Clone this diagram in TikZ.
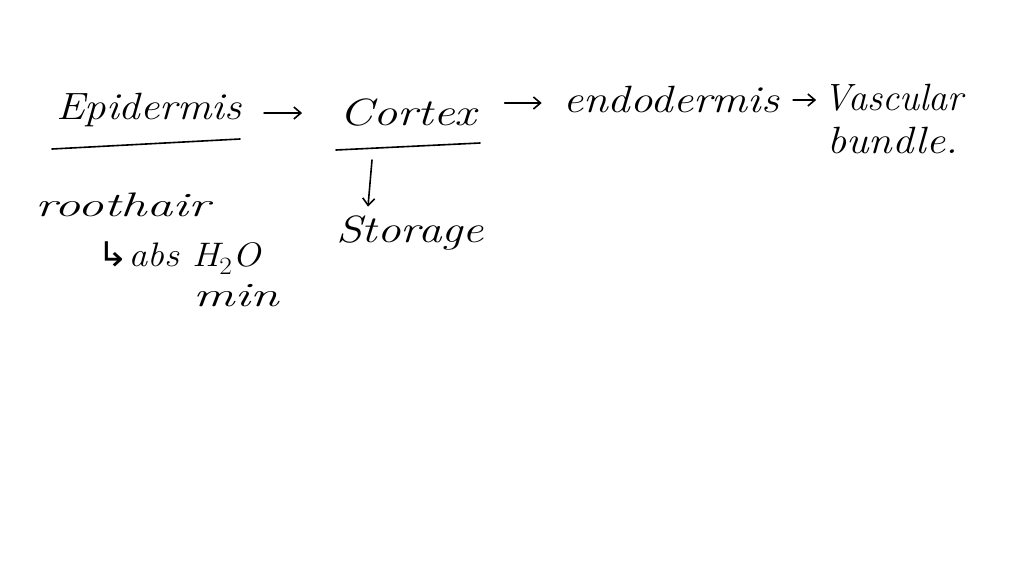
\documentclass[tikz,border=0pt]{standalone}
\usepackage{fontspec}
\newfontfamily\symfont{DejaVu Sans}
\usetikzlibrary{arrows.meta}
\newcommand\hw[2]{\scalebox{#1}[1]{#2}}
\begin{document}
\begin{tikzpicture}[x=1pt,y=-1pt,
  word/.style={inner sep=0pt,font=\fontsize{38}{44}\selectfont\itshape},
  small/.style={inner sep=0pt,font=\fontsize{34}{40}\selectfont\itshape},
  pen/.style={line width=1.6pt,line cap=round},
  flow/.style={pen,-{Straight Barb[length=7pt,width=12pt]}}]
\useasboundingbox (0,0) rectangle (1024,576);
\fill[white] (0,0) rectangle (1024,576);
\node[word] (epi) at (149,110) {\hw{1.13}{Epidermis}};
\node[word] (cor) at (408,113) {\hw{1.27}{Cortex}};
\node[word] (endo) at (671,100) {\hw{1.18}{endodermis}};
\node[word,anchor=west] (vas) at (823,98) {\hw{1.0}{Vascular}};
\node[word,anchor=west] (bun) at (827,140) {\hw{1.12}{bundle.}};
\node[word] (sto) at (410,233) {\hw{1.24}{Storage}};
\node[small,anchor=west] (root) at (35,205) {\hw{1.53}{roothair}};
\node[small,anchor=west] (abs) at (97,258) {\hw{1.1}{{\symfont ↳}abs H$_2$O}};
\node[small,anchor=west] (min) at (193,296) {\hw{1.52}{min}};
\coordinate (u1a) at (52,149); \coordinate (u1b) at (240,139);
\coordinate (u2a) at (336,150); \coordinate (u2b) at (480,143);
\draw[pen] (u1a) -- (u1b);
\draw[pen] (u2a) -- (u2b);
\coordinate (d1) at (372,160);
\draw[flow] (epi.east) ++(22,3) -- ++(38,0);
\draw[flow] (cor.east) ++(28,-10) -- ++(37,0);
\draw[flow] (endo.east) ++(14,0) -- ++(23,0);
\draw[flow] (d1) -- ([xshift=-42pt,yshift=9pt]sto.north);
\end{tikzpicture}
\end{document}
